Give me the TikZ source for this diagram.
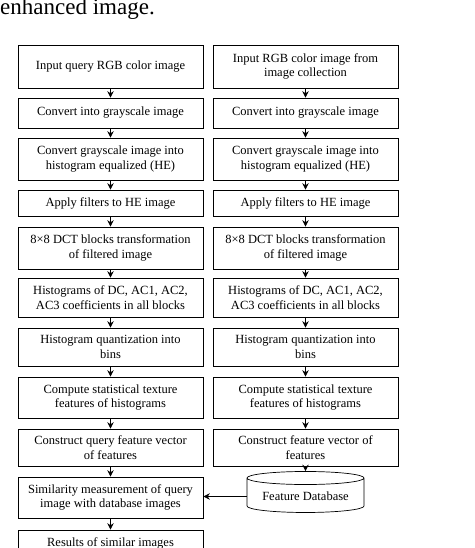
\documentclass[tikz,border=0pt]{standalone}
\usepackage{fontspec}
\setmainfont{Liberation Serif}
\usetikzlibrary{arrows.meta,shapes.geometric,positioning}

\begin{document}
\begin{tikzpicture}[x=1pt,y=1pt]
	\tikzset{
		stepbox/.style={draw, line width=0.7pt, minimum width=185pt, align=center, inner sep=2pt, font=\fontsize{12.5}{14.5}\selectfont},
		arrow/.style={-{Stealth[length=6.5pt,width=6.5pt]}, line width=0.8pt},
		dbstyle/.style={cylinder, shape border rotate=90, draw, line width=0.7pt, aspect=0.14, minimum width=117pt, minimum height=41pt, font=\fontsize{12.5}{14.5}\selectfont},
	}
	\useasboundingbox (0,0) rectangle (474,-548);
	\clip (0,0) rectangle (474,-548);

	\node[anchor=base west, inner sep=0pt, font=\fontsize{23}{26}\selectfont] (head) at (0,-15) {enhanced image.};

	% query image column
	\node[stepbox, minimum height=43pt] (q1) at (110.5,-66.5) {Input query RGB color image};
	\node[stepbox, minimum height=30pt] (q2) at (110.5,-113) {Convert into grayscale image};
	\node[stepbox, minimum height=42pt] (q3) at (110.5,-159) {Convert grayscale image into\\histogram equalized (HE)};
	\node[stepbox, minimum height=26pt] (q4) at (110.5,-203) {Apply filters to HE image};
	\node[stepbox, minimum height=42pt] (q5) at (110.5,-248) {8×8 DCT blocks transformation\\of filtered image};
	\node[stepbox, minimum height=39pt] (q6) at (110.5,-297.5) {Histograms of DC, AC1, AC2,\\AC3 coefficients in all blocks};
	\node[stepbox, minimum height=38pt] (q7) at (110.5,-347) {Histogram quantization into\\bins};
	\node[stepbox, minimum height=41pt] (q8) at (110.5,-397.5) {Compute statistical texture\\features of histograms};
	\node[stepbox, minimum height=37pt] (q9) at (110.5,-447.5) {Construct query feature vector\\of features};
	\node[stepbox, minimum height=41pt] (q10) at (110.5,-497.5) {Similarity measurement of query\\image with database images};
	\node[stepbox, minimum height=26pt] (q11) at (110.5,-543) {Results of similar images};

	% image collection column
	\node[stepbox, minimum height=43pt] (d1) at (305.5,-66.5) {Input RGB color image from\\image collection};
	\node[stepbox, minimum height=30pt] (d2) at (305.5,-113) {Convert into grayscale image};
	\node[stepbox, minimum height=42pt] (d3) at (305.5,-159) {Convert grayscale image into\\histogram equalized (HE)};
	\node[stepbox, minimum height=26pt] (d4) at (305.5,-203) {Apply filters to HE image};
	\node[stepbox, minimum height=42pt] (d5) at (305.5,-248) {8×8 DCT blocks transformation\\of filtered image};
	\node[stepbox, minimum height=39pt] (d6) at (305.5,-297.5) {Histograms of DC, AC1, AC2,\\AC3 coefficients in all blocks};
	\node[stepbox, minimum height=38pt] (d7) at (305.5,-347) {Histogram quantization into\\bins};
	\node[stepbox, minimum height=41pt] (d8) at (305.5,-397.5) {Compute statistical texture\\features of histograms};
	\node[stepbox, minimum height=37pt] (d9) at (305.5,-447.5) {Construct feature vector of\\features};
	\node[dbstyle] (db) at (305.5,-496.5) {Feature Database};

	\foreach \x in {1,...,10}
		{
			\pgfmathtruncatemacro{\nx}{\x+1}
			\draw[arrow] (q\x) -- (q\nx);
		}
	\foreach \x in {1,...,8}
		{
			\pgfmathtruncatemacro{\nx}{\x+1}
			\draw[arrow] (d\x) -- (d\nx);
		}
	\draw[arrow] (d9) -- (db);
	\draw[arrow] (db.west) -- (db.west -| q10.east);

\end{tikzpicture}
\end{document}
